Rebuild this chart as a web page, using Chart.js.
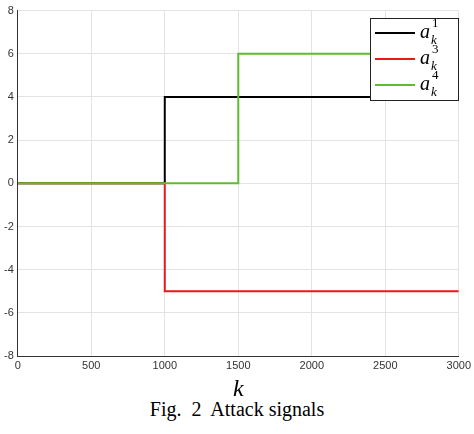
<!DOCTYPE html>
<html><head>
<script src="https://cdn.jsdelivr.net/npm/chart.js@4"></script>
<style>
body{margin:0;background:#fff;}
#wrap{position:relative;width:474px;height:404px;}
#cap{font-family:"Liberation Serif",serif;font-size:20px;text-align:center;width:474px;margin-top:-6px;}
</style>
</head><body>
<div id="wrap"><canvas id="c"></canvas></div>
<div id="cap">Fig.&nbsp; 2&nbsp; Attack signals</div>
<script>
// step signals: x breakpoints and y values
let x1 = [0, 1000, 1000, 3000];
let y1 = [0, 0, 4, 4];
let x3 = [0, 1000, 1000, 3000];
let y3 = [0, 0, -5, -5];
let x4 = [0, 1500, 1500, 3000];
let y4 = [0, 0, 6, 6];
let names = ["1", "3", "4"];
let colors = ["#000000", "#e8191b", "#5cbd2f"];

function pts(xs, ys){ return xs.map((x,i)=>({x:x, y:ys[i]})); }

const legendPlugin = {
    id:'mathLegend',
    afterDraw(chart){
        const ctx = chart.ctx;
        const bx = 370, by = 18, bw = 88, bh = 82;
        ctx.save();
        ctx.fillStyle = '#fff';
        ctx.fillRect(bx, by, bw, bh);
        ctx.strokeStyle = '#222';
        ctx.lineWidth = 1;
        ctx.strokeRect(bx+0.5, by+0.5, bw, bh);
        for (let i=0;i<3;i++){
            let yy = by + 15 + i*26;
            ctx.strokeStyle = colors[i];
            ctx.lineWidth = 2;
            ctx.beginPath(); ctx.moveTo(bx+5, yy); ctx.lineTo(bx+45, yy); ctx.stroke();
            ctx.fillStyle = '#000';
            ctx.font = 'italic 20px "Liberation Serif"';
            ctx.textBaseline = 'middle';
            ctx.fillText('a', bx+50, yy);
            ctx.font = '13px "Liberation Serif"';
            ctx.fillText(names[i], bx+62, yy-9);
            ctx.font = 'italic 13px "Liberation Serif"';
            ctx.fillText('k', bx+61, yy+8);
        }
        ctx.restore();
    }
};

new Chart('c', {
    type:'line',
    data:{
        datasets:[
            {data:pts(x1,y1), borderColor:colors[0], order:2},
            {data:pts(x3,y3), borderColor:colors[1], order:1},
            {data:pts(x4,y4), borderColor:colors[2], order:0}
        ]
    },
    options:{
        responsive:true, maintainAspectRatio:false, animation:false,
        elements:{point:{radius:0}, line:{borderWidth:2, tension:0}},
        layout:{padding:{left:0,right:14,top:0}},
        plugins:{legend:{display:false}, tooltip:{enabled:false}},
        scales:{
            x:{type:'linear', min:0, max:3000,
                ticks:{stepSize:500, color:'#333', callback:v=>String(v), font:{family:'Liberation Sans', size:11}},
                grid:{color:'#e3e3e3', tickLength:0}, border:{color:'#333'},
                title:{display:true, text:'k', color:'#000', padding:{top:0,bottom:0}, font:{family:'Liberation Serif', style:'italic', size:24}}},
            y:{min:-8, max:8,
                ticks:{stepSize:2, color:'#333', padding:4, font:{family:'Liberation Sans', size:11}},
                grid:{color:'#e3e3e3', tickLength:0}, border:{color:'#333'}}
        }
    },
    plugins:[legendPlugin]
});
</script>
</body></html>
